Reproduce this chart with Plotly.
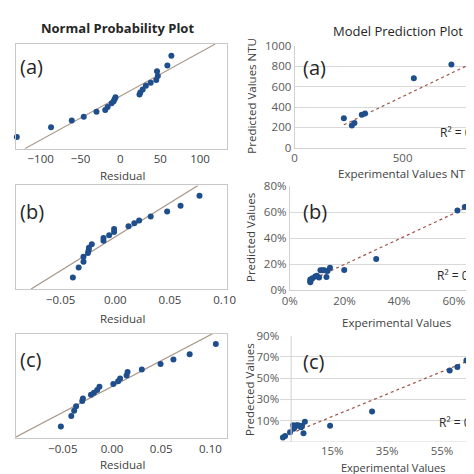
import plotly.graph_objects as go

W = H = 474
# ---- Left: normal probability plots (residual, hidden probability score) ----
resA = [-130, -87, -61, -46, -30, -19, -16, -11, -8.5, -7.3, -6.1, 24, 25, 28, 32, 38, 45, 47, 46, 59, 64]
scoreA = [12, 22, 29, 33, 38, 40, 43, 47, 49, 51, 53, 56, 58, 61, 65, 68, 71, 75, 80, 86, 96]
lineA_x = [-120, 119]; lineA_y = [0, 108]

resB = [-0.0388, -0.0335, -0.0291, -0.0291, -0.0250, -0.0244, -0.0241, -0.0215, -0.0108, -0.0108,
        -0.0056, -0.0011, -0.0011, 0.0121, 0.0174, 0.0218, 0.0324, 0.0474, 0.0597, 0.0770]
scoreB = [12, 22.3, 28.3, 33.3, 37.3, 40, 42.7, 46.3, 50, 52.7, 55.7, 59, 62, 65, 68, 70.7, 75, 80, 86, 96.3]
lineB_x = [-0.077, 0.0756]; lineB_y = [0, 107]

resC = [-0.052, -0.0414, -0.0385, -0.0365, -0.0303, -0.0296, -0.0214, -0.0184, -0.0151, -0.0128,
        0.0013, 0.0062, 0.0082, 0.0148, 0.0158, 0.0303, 0.0493, 0.0624, 0.0789, 0.1055]
scoreC = [12.3, 23.3, 29, 33.7, 39, 41.7, 45.7, 47.7, 50.7, 54, 57, 60, 62.7, 66, 69.7, 72.3, 78, 82.7, 88.3, 99]
lineC_x = [-0.0976, 0.1036]; lineC_y = [1.3, 110.7]

# ---- Right: model prediction plots ----
expA = [228, 265, 277, 311, 326, 552, 726, 826]
predA = [289, 219, 244, 324, 336, 683, 819, 771]
trendA_x = [228, 950]; trendA_y = [225, 962]

expB = [61.3, 64.0, 31.6, 19.9, 14.7, 13.4, 11.2, 12.6, 11.9, 13.8, 9.9, 10.7, 9.3, 8.3, 7.5, 7.5, 7.5]
predB = [61.4, 64.2, 23.9, 15.4, 17.2, 10.0, 15.2, 15.2, 15.2, 14.7, 11.0, 9.7, 10.4, 9.2, 8.2, 6.7, 6.0]
trendB_x = [7, 68]; trendB_y = [7, 67]

expC = [63.9, 60.6, 57.8, 29.5, 14.2, 5.0, 4.5, 4.0, 0.7, 1.3, 1.9, 2.5, 3.1, 3.6, 0.9, -0.4, -2.2, -3.0]
predC = [66.5, 60.4, 57.2, 18.7, 5.4, 9.1, -1.6, 5.4, 5.9, 3.9, 5.9, 5.9, 5.4, 3.9, 2.4, -0.7, -4.2, -5.7]
trendC_x = [1.9, 70]; trendC_y = [0.2, 72]

ticksA_x = [0, 500]
ticksA_y = [0, 200, 400, 600, 800, 1000]
ticksB_x = [0, 20, 40, 60]
ticksB_y = [0, 20, 40, 60, 80]
ticksC_x = [15, 35, 55]
ticksC_y = [10, 30, 50, 70, 90]

BLUE = "#1F4E8C"
LINEC = "#A89888"
TREND = "#A0524A"
FONT = "Open Sans"
TICK = dict(family=FONT, size=11.5, color="#404040")

fig = go.Figure()
def pts(x, y, ax):
    fig.add_trace(go.Scatter(x=x, y=y, mode="markers", marker=dict(color=BLUE, size=6),
                             xaxis="x" + ax, yaxis="y" + ax, showlegend=False, cliponaxis=False))
def ln(x, y, ax, color, dash):
    fig.add_trace(go.Scatter(x=x, y=y, mode="lines", line=dict(color=color, width=1.2, dash=dash),
                             xaxis="x" + ax, yaxis="y" + ax, showlegend=False))

ln(lineA_x, lineA_y, "", LINEC, "solid"); pts(resA, scoreA, "")
ln(lineB_x, lineB_y, "2", LINEC, "solid"); pts(resB, scoreB, "2")
ln(lineC_x, lineC_y, "3", LINEC, "solid"); pts(resC, scoreC, "3")
ln(trendA_x, trendA_y, "4", TREND, "dot"); pts(expA, predA, "4")
ln(trendB_x, trendB_y, "5", TREND, "dot"); pts(expB, predB, "5")
ln(trendC_x, trendC_y, "6", TREND, "dot"); pts(expC, predC, "6")

def py(p):
    return 1 - p / H
def px(p):
    return p / W
def pct(v):
    return ["%d%%" % t for t in v]

frame = dict(showline=True, mirror=True, linecolor="#C8C8C8", linewidth=1, showgrid=False,
             zeroline=False, ticks="", tickfont=TICK)
hid = dict(showline=True, mirror=True, linecolor="#C8C8C8", showgrid=False, zeroline=False,
           showticklabels=False, ticks="")
grid = dict(showgrid=True, gridcolor="#D9D9D9", zeroline=False, tickfont=dict(family=FONT, size=11.5, color="#595959"),
            showline=True, linecolor="#D0D0D0", ticks="")

layout = dict(
    width=W, height=H, margin=dict(l=0, r=0, t=0, b=0), paper_bgcolor="white", plot_bgcolor="white",
    xaxis=dict(frame, domain=[0, px(219)], range=[-131, 134], tickvals=[-100, -50, 0, 50, 100]),
    yaxis=dict(hid, domain=[py(137), py(29)], range=[0, 108]),
    xaxis2=dict(frame, domain=[0, px(219)], range=[-0.0908, 0.1023], tickvals=[-0.05, 0, 0.05, 0.10], tickformat=".2f", anchor="y2"),
    yaxis2=dict(hid, domain=[py(282), py(175)], range=[0, 107], anchor="x2"),
    xaxis3=dict(frame, domain=[0, px(219)], range=[-0.0976, 0.117], tickvals=[-0.05, 0, 0.05, 0.10], tickformat=".2f", anchor="y3"),
    yaxis3=dict(hid, domain=[py(436), py(328)], range=[0, 110], anchor="x3"),
    xaxis4=dict(grid, showgrid=False, domain=[px(289), 1], range=[0, 826], tickvals=ticksA_x, anchor="y4"),
    yaxis4=dict(grid, domain=[py(136), py(31)], range=[0, 1000], tickvals=ticksA_y, anchor="x4"),
    xaxis5=dict(grid, showgrid=False, domain=[px(284), 1], range=[0, 67], tickvals=ticksB_x, ticktext=pct(ticksB_x), anchor="y5"),
    yaxis5=dict(grid, domain=[py(283), py(176)], range=[0, 80], tickvals=ticksB_y, ticktext=pct(ticksB_y), anchor="x5"),
    xaxis6=dict(grid, showgrid=False, showline=False, domain=[px(274), 1], range=[-4, 66.3], tickvals=ticksC_x, ticktext=pct(ticksC_x), anchor="y6"),
    yaxis6=dict(grid, showline=False, domain=[py(440), py(330)], range=[-10, 90], tickvals=ticksC_y, ticktext=pct(ticksC_y), anchor="x6"),
)
fig.update_layout(**layout)
fig.add_shape(type="line", xref="x6", yref="y6", x0=0, x1=0, y0=-10, y1=90, line=dict(color="#D0D0D0", width=1))
fig.add_shape(type="line", xref="x6", yref="y6", x0=-4, x1=66.3, y0=-10, y1=-10, line=dict(color="#D0D0D0", width=1))

def ann(text, x, y, size=12, bold=False, angle=0, xanchor="center", color="#262626"):
    fig.add_annotation(text=("<b>%s</b>" % text) if bold else text, x=px(x), y=py(y), xref="paper", yref="paper",
                       showarrow=False, textangle=angle, xanchor=xanchor, yanchor="middle",
                       font=dict(family=FONT, size=size, color=color))

ann("Normal Probability Plot", 105, 12, 13, True)
ann("Model Prediction Plot", 396, 15, 13)
for lab, y in [("(a)", 52), ("(b)", 202), ("(c)", 355)]:
    ann(lab, 2, y, 20, xanchor="left")
for lab, y in [("(a)", 53), ("(b)", 202), ("(c)", 357)]:
    ann(lab, 296, y, 20, xanchor="left")
for y in [165, 312, 463]:
    ann("Residual", 110, y, 11.5, color="#404040")
ann("Experimental Values NTU", 404, 163, 11.5, color="#404040")
ann("Experimental Values", 395, 316, 11.5, color="#404040")
ann("Experimental Values", 391, 466, 11, color="#404040")
ann("Predicted Values NTU", 244, 82, 11.5, angle=-90, color="#404040")
ann("Predicted Values", 244, 229, 11.5, angle=-90, color="#404040")
ann("Predected Values", 243, 386, 11.5, angle=-90, color="#404040")
for y, x in [(120, 444), (268, 441), (420, 443)]:
    ann("R² = 0.97", x - 6, y, 12, xanchor="left")

fig.write_html("out.html")
